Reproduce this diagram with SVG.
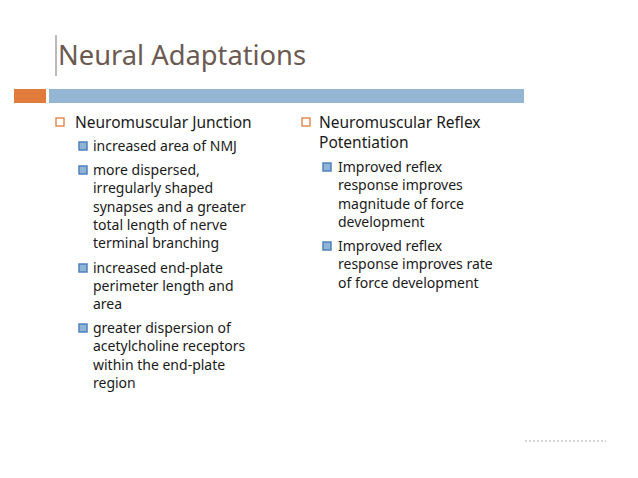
<svg xmlns="http://www.w3.org/2000/svg" width="638" height="478" viewBox="0 0 638 478">
<style>
.t{font-family:"Noto Sans","DejaVu Sans",sans-serif;fill:#1a1a1a}
.l1{font-size:15.5px}
.l2{font-size:14px}
.b1{fill:#fff;stroke:#e07b3c;stroke-width:1.3}
.b2{fill:#8fb4d6;stroke:#4f81bd;stroke-width:1.5}
</style>
<rect width="638" height="478" fill="#fff"/>
<g id="title">
<line x1="56" y1="35" x2="56" y2="76" stroke="#777" stroke-width="1"/>
<text x="58" y="65" font-family="Noto Sans,DejaVu Sans,sans-serif" font-size="27.3" fill="#6b5a52">Neural Adaptations</text>
<rect x="14" y="89" width="32" height="14" fill="#e07b3c"/>
<rect x="49" y="89" width="475" height="14" fill="#94b6d2"/>
</g>
<g id="left">
<rect class="b1" x="56" y="118" width="8" height="8"/>
<text class="t l1" x="75" y="128">Neuromuscular Junction</text>
<g class="t l2">
<rect class="b2" x="79" y="142" width="8" height="8"/>
<text x="93" y="151">increased area of NMJ</text>
<rect class="b2" x="79" y="166" width="8" height="8"/>
<text x="93" y="175">more dispersed,</text>
<text x="93" y="193">irregularly shaped</text>
<text x="93" y="212">synapses and a greater</text>
<text x="93" y="230">total length of nerve</text>
<text x="93" y="248">terminal branching</text>
<rect class="b2" x="79" y="264" width="8" height="8"/>
<text x="93" y="273">increased end-plate</text>
<text x="93" y="291">perimeter length and</text>
<text x="93" y="309">area</text>
<rect class="b2" x="79" y="324" width="8" height="8"/>
<text x="93" y="333">greater dispersion of</text>
<text x="93" y="351">acetylcholine receptors</text>
<text x="93" y="370">within the end-plate</text>
<text x="93" y="388">region</text>
</g>
</g>
<g id="right">
<rect class="b1" x="302" y="118" width="8" height="8"/>
<text class="t l1" x="319" y="128">Neuromuscular Reflex</text>
<text class="t l1" x="319" y="148">Potentiation</text>
<g class="t l2">
<rect class="b2" x="323" y="163" width="8" height="8"/>
<text x="338" y="172">Improved reflex</text>
<text x="338" y="190">response improves</text>
<text x="338" y="209">magnitude of force</text>
<text x="338" y="227">development</text>
<rect class="b2" x="323" y="242" width="8" height="8"/>
<text x="338" y="251">Improved reflex</text>
<text x="338" y="269">response improves rate</text>
<text x="338" y="288">of force development</text>
</g>
</g>
<line x1="525" y1="441" x2="606" y2="441" stroke="#aaa" stroke-width="1" stroke-dasharray="2,2"/>
</svg>
